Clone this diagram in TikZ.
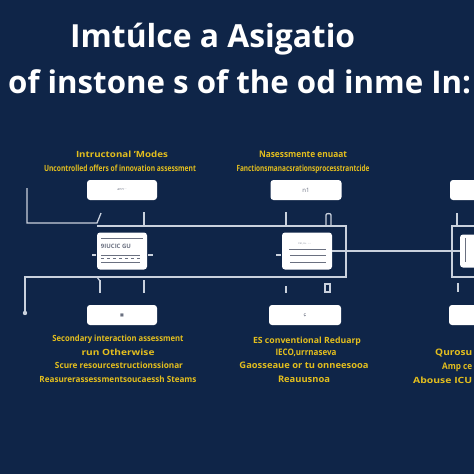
\documentclass[tikz,border=0pt]{standalone}
\usepackage{fontspec}
\setmainfont{Open Sans}
\newfontfamily\djv{DejaVu Sans}
\usepackage{graphicx}
\definecolor{bg}{HTML}{0F2548}
\definecolor{ylw}{HTML}{E3BE1E}
\definecolor{lnc}{HTML}{C9D1DD}
\definecolor{gtx}{HTML}{6A7080}
\newcommand{\ytx}[2]{\resizebox{#1pt}{6.5pt}{\bfseries #2}}
\tikzset{
  wbox/.style={fill=white, rounded corners=3pt, draw=none, inner sep=0pt},
  conn/.style={draw=lnc, line width=1.3pt},
  ytext/.style={text=ylw, inner sep=0pt, anchor=base},
  ttext/.style={text=white, inner sep=0pt, anchor=base west, font=\bfseries},
  btext/.style={text=gtx, font=\fontsize{4}{5}\selectfont}
}
\begin{document}
\begin{tikzpicture}[x=1pt,y=-1pt]
\fill[bg] (0,0) rectangle (474,474);
\useasboundingbox (0,0) rectangle (474,474);
\begin{scope}
\clip (0,0) rectangle (474,474);
% titles
\node[ttext] (title1) at (70,47) {\resizebox{285pt}{!}{Imtúlce a Asigatio}};
\node[ttext] (title2) at (8,93) {\resizebox{463pt}{!}{of instone s of the od inme In:}};

% yellow captions top
\node[ytext] (c1a) at (122,157) {\ytx{92}{Intructonal 'Modes}};
\node[ytext] (c1b) at (120,171) {\ytx{152}{Uncontrolled offers of innovation assessment}};
\node[ytext] (c2a) at (303,157) {\ytx{88}{Nasessmente enuaat}};
\node[ytext] (c2b) at (303,171) {\ytx{133}{Fanctionsmanacsrationsprocesstrantcide}};

% boxes
\node[wbox, minimum width=70pt, minimum height=20pt] (t1) at (122,190) {\textcolor{gtx}{\fontsize{3.5}{4}\selectfont ann\\ · ·}};
\node[wbox, minimum width=50pt, minimum height=37pt] (m1) at (122,251) {};
\node[wbox, minimum width=70pt, minimum height=20pt] (b1) at (122,315) {\textcolor{gtx}{\djv\fontsize{4}{5}\selectfont ■}};
\node[wbox, minimum width=71pt, minimum height=20pt] (t2) at (306,190) {\textcolor{gtx}{\fontsize{6}{7}\selectfont n1}};
\node[wbox, minimum width=50pt, minimum height=37pt] (m2) at (307,251) {};
\node[wbox, minimum width=72pt, minimum height=20pt] (b2) at (305,315) {\textcolor{gtx}{\djv\fontsize{5}{6}\selectfont ɕ}};
\node[wbox, minimum width=70pt, minimum height=20pt] (t3) at (485,190) {};
\node[wbox, minimum width=40pt, minimum height=33pt] (m3) at (480,251) {};
\node[wbox, minimum width=70pt, minimum height=20pt] (b3) at (484,315) {};

% text inside middle boxes
\draw[gtx, line width=0.5pt] (101,238) -- (143,238);
\node[text=gtx, inner sep=0pt, font=\fontsize{6}{6}\selectfont\bfseries] (m1t) at (116,246) {9IUCIC GU};
\draw[gtx, line width=0.4pt] (101,255) -- (140,255);
\draw[gtx, line width=0.4pt, dashed] (101,258) -- (140,258);
\draw[gtx, line width=0.5pt] (101,262) -- (140,262);
\node[text=gtx, inner sep=0pt, font=\fontsize{2.5}{3}\selectfont] (m2a) at (305,244) {Fin, ru · ·····};
\draw[gtx, line width=0.4pt] (289,249) -- (326,249);
\draw[gtx, line width=0.6pt] (290,255) -- (326,255);
\draw[gtx, line width=0.6pt] (290,262) -- (326,262);
\draw[gtx, line width=0.5pt] (465,238) -- (465,262);

% connectors
\coordinate (L1) at (27,188);
\coordinate (L2) at (27,223);
\coordinate (R1) at (346,226);
\coordinate (R2) at (346,277);
\coordinate (B1) at (25,277);
\coordinate (B2) at (25,313);
\draw[conn] (L1) -- (L2) -- (97,223) -- (101,213);
\draw[conn] (97,226) -- (R1) -- (R2) -- (B1) -- (B2);
\fill[lnc] (B2) circle (2.2pt);
\draw[conn] (144,212) -- (144,226);
\draw[conn] (100,280) -- (100,293);
\draw[conn] (97,277) -- (100,281);
\draw[conn] (144,280) -- (144,293);
\draw[conn] (286,212) -- (286,226);
\draw[conn] (326,226) -- (326,215) to[out=90,in=90] (331,215) -- (331,226);
\draw[conn] (286,286) -- (286,293);
\draw[conn] (325,284) rectangle (330,292);
\draw[conn] (92,255) -- (96,255);
\draw[conn] (148,255) -- (153,255);
\draw[conn] (276,255) -- (281,255);
\draw[conn] (m2.east) -- (m3.west);
\draw[conn] (480,226) -- (452,226) -- (452,277) -- (480,277);
\draw[conn] (457,213) -- (457,226);
\draw[conn] (458,283) -- (458,292);

% yellow captions bottom
\node[ytext] (d1a) at (118,341) {\ytx{131}{Secondary interaction assessment}};
\node[ytext] (d1b) at (118,355) {\ytx{73}{run Otherwise}};
\node[ytext] (d1c) at (119,368) {\ytx{128}{Scure resourcestructionssionar}};
\node[ytext] (d1d) at (118,382) {\ytx{157}{Reasurerassessmentsoucaessh Steams}};
\node[ytext] (d2a) at (307,343) {\ytx{108}{ES conventional Reduarp}};
\node[ytext] (d2b) at (306,355) {\ytx{61}{IECO,urrnaseva}};
\node[ytext] (d2c) at (304,368) {\ytx{129}{Gaosseaue or tu onneesooa}};
\node[ytext] (d2d) at (304,382) {\ytx{52}{Reauusnoa}};
\node[ytext, anchor=base west] (d3a) at (435,355) {\ytx{37}{Qurosu}};
\node[ytext, anchor=base west] (d3b) at (442,369) {\ytx{30}{Amp ce}};
\node[ytext, anchor=base west] (d3c) at (413,383) {\ytx{59}{Abouse ICU}};
\end{scope}
\end{tikzpicture}
\end{document}
